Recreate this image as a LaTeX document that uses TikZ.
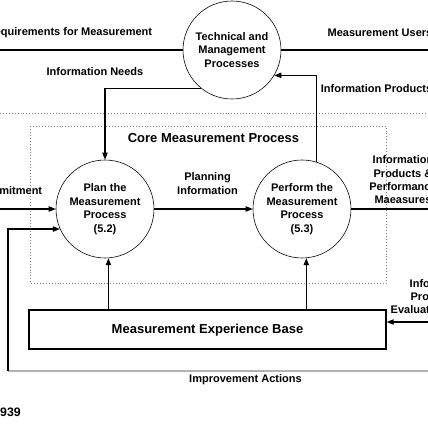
\documentclass[tikz,border=0pt]{standalone}
\usepackage{fontspec}
\setmainfont{Liberation Sans}
\usetikzlibrary{arrows.meta}

\begin{document}
\begin{tikzpicture}[x=0.03cm,y=-0.03cm,
  proc/.style={circle, draw, line width=0.5pt, minimum size=2.94cm, inner sep=0pt, align=center, font=\fontsize{9.4}{11.5}\selectfont\bfseries},
  lbl/.style={inner sep=0pt, align=center, font=\fontsize{9.4}{11.4}\selectfont\bfseries},
  biglbl/.style={inner sep=0pt, font=\fontsize{11.1}{13}\selectfont\bfseries},
  flow/.style={line width=1pt, -{Triangle[length=6pt,width=4.5pt]}},
  wire/.style={line width=1pt}]
\clip (0,0) rectangle (428,428);
\draw[gray, dotted, line width=0.5pt] (0,113) -- (428,113);
\draw[gray, dotted, line width=0.5pt] (30,126) rectangle (386,283);
\node[proc] (tech) at (232,50) {Technical and\\Management\\Processes};
\node[proc] (plan) at (105,209) {Plan the\\Measurement\\Process\\(5.2)};
\node[proc] (perform) at (302,209) {Perform the\\Measurement\\Process\\(5.3)};
\node[draw, line width=1.1pt, minimum width=357*0.03cm, minimum height=39*0.03cm] (meb) at (207.5,329.5) {};
\node[biglbl] (mebtext) at (207.5,330) {Measurement Experience Base};
\node[biglbl] (core) at (213.5,138) {Core Measurement Process};
\coordinate (reqin) at (0,50);
\coordinate (usersout) at (428,50);
\coordinate (commin) at (0,209);
\coordinate (prodout) at (428,209);
\coordinate (evalin) at (428,322);
\coordinate (impin) at (428,371);
\coordinate (impcorner) at (8,371);
\draw[wire] (reqin) -- (tech.west);
\draw[wire] (tech.east) -- (usersout);
\draw[flow] (tech.231) -| (plan.north);
\draw[flow] (perform.73) |- (tech.-31);
\draw[flow] (commin) -- (plan.west);
\draw[flow] (plan.east) -- (perform.west);
\draw[wire] (perform.east) -- (prodout);
\draw[flow] (meb.north -| plan.274) -- (plan.274);
\draw[flow] (meb.north -| perform.275) -- (perform.275);
\draw[flow] (evalin) -- (evalin -| meb.east);
\draw[gray!60, line width=1.2pt] (impin) -- (impcorner);
\draw[flow] (impcorner) |- (plan.204);
\node[lbl] (reqlbl) at (69.5,33) {Requirements for Measurement};
\node[lbl] (userslbl) at (380,33) {Measurement Users};
\node[lbl] (needslbl) at (95,72) {Information Needs};
\node[lbl] (prodlbl) at (376.5,89) {Information Products};
\node[lbl] (commlbl) at (8.5,191) {Commitment};
\node[lbl] (planlbl) at (207.5,183.5) {Planning\\Information};
\node[lbl] (perflbl) at (403,180) {Information\\Products \&\\Performance\\Maeasures};
\node[lbl] (evallbl) at (440,296.5) {Information\\Products \&\\Evaluation Results};
\node[lbl] (implbl) at (245.5,380) {Improvement Actions};
\node[lbl, anchor=west, font=\fontsize{10.5}{12}\selectfont\bfseries] (fig) at (0,412) {939};
\end{tikzpicture}
\end{document}
